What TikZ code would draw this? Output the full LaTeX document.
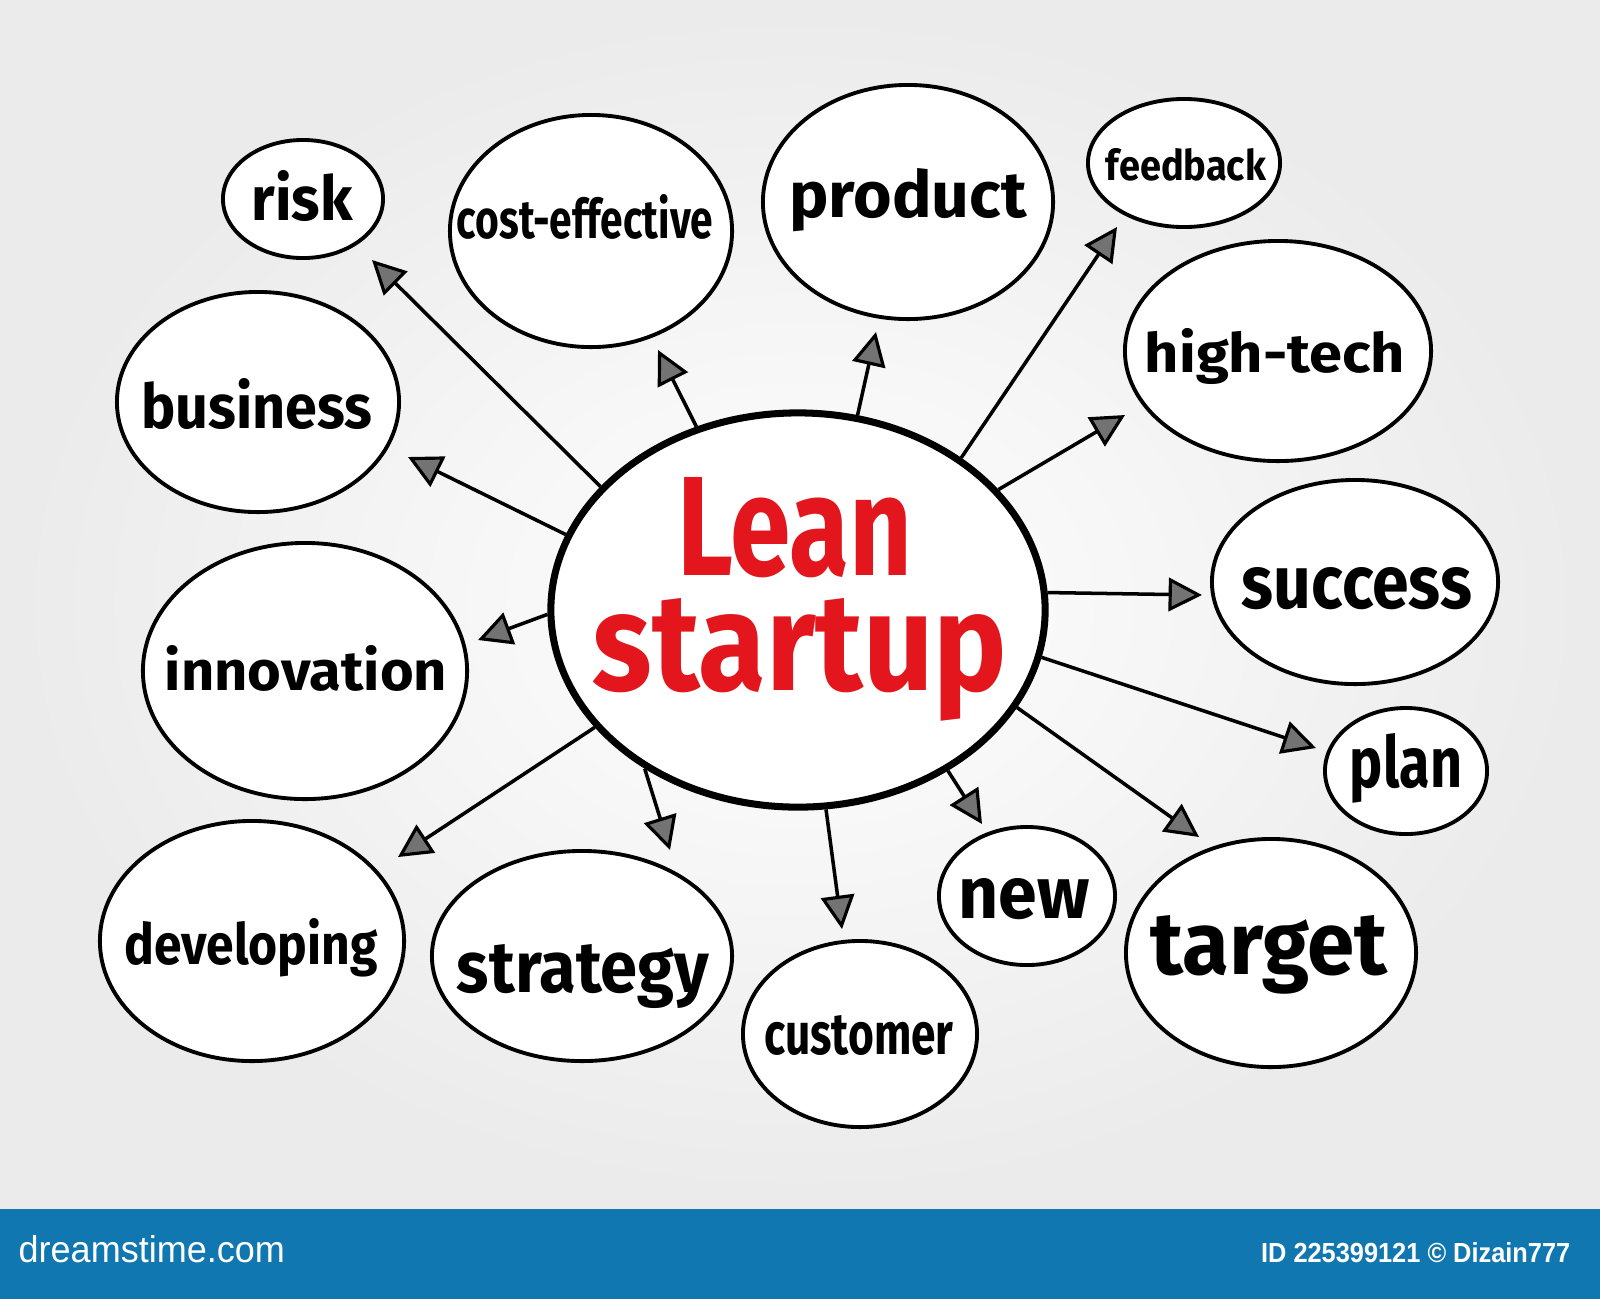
\documentclass[tikz,border=0pt]{standalone}
\usepackage{fontspec}
\setmainfont{Fira Sans}
\newfontfamily\bannerfont{Liberation Sans}
\usetikzlibrary{shapes.geometric,arrows.meta}
\definecolor{leanred}{RGB}{226,22,28}
\definecolor{bannerblue}{RGB}{16,119,176}
\newcommand\hw[3]{\resizebox{#1cm}{#2cm}{\bfseries #3}}
\tikzset{
  bub/.style 2 args={ellipse, draw=black, line width=1.1pt, fill=white, inner sep=0pt,
    minimum width=#1cm, minimum height=#2cm},
  txt/.style={inner sep=0pt, anchor=base, text=black},
  arr/.style={line width=1pt, draw=black,
    -{Triangle[length=9.5pt,width=9.5pt,fill=black!55,line width=0.9pt]}},
}
\begin{document}
\begin{tikzpicture}[x=0.01cm,y=-0.01cm]
\useasboundingbox (0,0) rectangle (1600,1299);
\shade[inner color=white, outer color=black!8] (0,0) rectangle (1600,1209);
\fill[bannerblue] (0,1209) rectangle (1600,1299);

% bubbles
\node[bub={4.94}{3.94}, line width=2pt] (c) at (798,610) {};
\node[bub={1.60}{1.18}] (risk) at (303,199) {};
\node[bub={2.82}{2.32}] (cost) at (591,231) {};
\node[bub={2.90}{2.34}] (product) at (908,202) {};
\node[bub={1.92}{1.28}] (feedback) at (1184,163) {};
\node[bub={3.06}{2.20}] (hightech) at (1278,351) {};
\node[bub={2.86}{2.04}] (success) at (1355,582) {};
\node[bub={1.62}{1.26}] (plan) at (1406,771) {};
\node[bub={2.82}{2.20}] (business) at (258,402) {};
\node[bub={3.24}{2.56}] (innovation) at (305,671) {};
\node[bub={3.04}{2.40}] (developing) at (252,941) {};
\node[bub={3.00}{2.10}] (strategy) at (582,956) {};
\node[bub={2.34}{1.86}] (customer) at (860,1034) {};
\node[bub={1.76}{1.38}] (new) at (1027,896) {};
\node[bub={2.90}{2.28}] (target) at (1271,953) {};

% labels
\node[txt] (risk-t) at (302,220) {\hw{1.01}{0.50}{risk}};
\node[txt] (cost-t) at (585,238) {\hw{2.56}{0.44}{cost-effective}};
\node[txt] (product-t) at (908,217) {\hw{2.37}{0.49}{product}};
\node[txt] (feedback-t) at (1186,180) {\hw{1.60}{0.32}{feedback}};
\node[txt] (hightech-t) at (1275,372) {\hw{2.60}{0.44}{high-tech}};
\node[txt] (business-t) at (257,428) {\hw{2.31}{0.50}{business}};
\node[txt] (success-t) at (1357,608) {\hw{2.30}{0.41}{success}};
\node[txt] (innovation-t) at (306,690) {\hw{2.82}{0.45}{innovation}};
\node[txt] (plan-t) at (1406,787) {\hw{1.12}{0.54}{plan}};
\node[txt] (developing-t) at (251,964) {\hw{2.53}{0.46}{developing}};
\node[txt] (strategy-t) at (583,992) {\hw{2.52}{0.48}{strategy}};
\node[txt] (customer-t) at (859,1054) {\hw{1.89}{0.39}{customer}};
\node[txt] (new-t) at (1024,918) {\hw{1.31}{0.40}{new}};
\node[txt] (target-t) at (1269,974) {\hw{2.37}{0.59}{target}};
\node[txt, text=leanred] (lean-t) at (800,690)
  {\rlap{\makebox[4.14cm]{\hspace{-0.10cm}\raisebox{1.14cm}{\hw{2.35}{0.98}{Lean}}}}\hw{4.14}{0.92}{startup}};

% arrow tips
\coordinate (t-risk) at (372,260);
\coordinate (t-cost) at (658,350);
\coordinate (t-product) at (876,332);
\coordinate (t-feedback) at (1117,227);
\coordinate (t-hightech) at (1125,415);
\coordinate (t-business) at (408,457);
\coordinate (t-success) at (1202,595);
\coordinate (t-innovation) at (478,640);
\coordinate (t-plan) at (1316,748);
\coordinate (t-developing) at (398,857);
\coordinate (t-strategy) at (670,850);
\coordinate (t-customer) at (842,929);
\coordinate (t-new) at (982,824);
\coordinate (t-target) at (1199,837);

\draw[arr] (c.148.2) -- (t-risk);
\draw[arr] (c.119.6) -- (t-cost);
\draw[arr] (c.73.5) -- (t-product);
\draw[arr] (c.43.3) -- (t-feedback);
\draw[arr] (c.31.1) -- (t-hightech);
\draw[arr] (c.162.5) -- (t-business);
\draw[arr] (c.4.6) -- (t-success);
\draw[arr] (c.181.2) -- (t-innovation);
\draw[arr] (c.-11.7) -- (t-plan);
\draw[arr] (c.210.4) -- (t-developing);
\draw[arr] (c.226.6) -- (t-strategy);
\draw[arr] (c.-82.4) -- (t-customer);
\draw[arr] (c.-47.2) -- (t-new);
\draw[arr] (c.-24.5) -- (t-target);

% banner text
\node[inner sep=0pt, anchor=base west, text=white] (brand) at (18,1262)
  {\resizebox{2.66cm}{0.27cm}{\bannerfont dreamstime.com}};
\node[inner sep=0pt, anchor=base east, text=white] (credit) at (1571,1262)
  {\resizebox{3.09cm}{0.20cm}{\bannerfont\bfseries ID 225399121 © Dizain777}};
\end{tikzpicture}
\end{document}
